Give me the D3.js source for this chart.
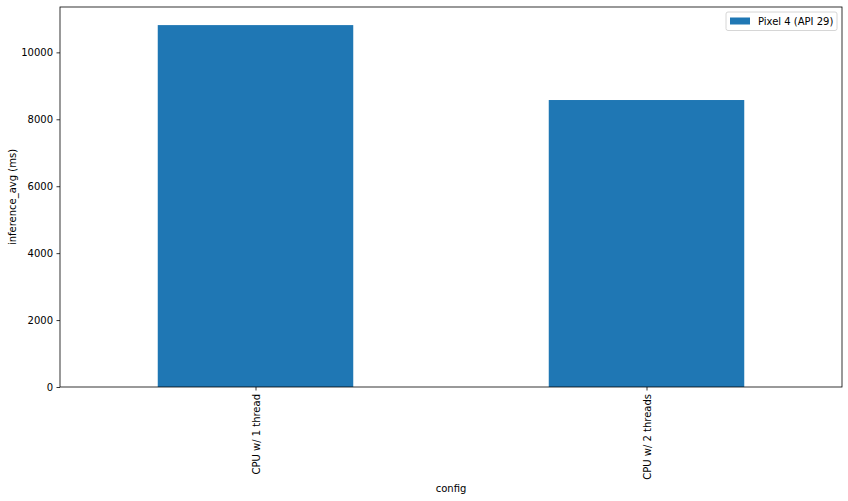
<!DOCTYPE html>
<html>
<head>
<meta charset="utf-8">
<script src="https://cdn.jsdelivr.net/npm/d3@7"></script>
<style>
  body { margin: 0; background: #fff; }
  text { font-family: "DejaVu Sans", sans-serif; fill: #000; }
</style>
</head>
<body>
<div id="chart"></div>
<script>
const configs = ["CPU w/ 1 thread", "CPU w/ 2 threads"];
const seriesName = "Pixel 4 (API 29)";
const inferenceAvg = [10815, 8576];
const yTicks = [0, 2000, 4000, 6000, 8000, 10000];

const width = 848, height = 501;
const margin = { top: 7, right: 6, bottom: 114, left: 60 };
const innerW = width - margin.left - margin.right;
const innerH = height - margin.top - margin.bottom;

const svg = d3.select("#chart")
    .append("svg")
    .attr("width", width)
    .attr("height", height);

const g = svg.append("g")
    .attr("transform", `translate(${margin.left},${margin.top})`);

// categorical x like pandas: positions 0..n-1, limits -0.5..n-0.5, bar width 0.5
const x = d3.scaleLinear()
    .domain([-0.5, configs.length - 0.5])
    .range([0, innerW]);

const y = d3.scaleLinear()
    .domain([0, d3.max(inferenceAvg) * 1.05])
    .range([innerH, 0]);

g.selectAll("rect.bar")
    .data(inferenceAvg)
    .join("rect")
    .attr("class", "bar")
    .attr("x", (d, i) => x(i - 0.25))
    .attr("width", x(0.25) - x(-0.25))
    .attr("y", d => y(d))
    .attr("height", d => y(0) - y(d))
    .attr("fill", "#1f77b4");

// y axis
const yAxis = g.append("g")
    .call(d3.axisLeft(y).tickValues(yTicks).tickSize(3.5).tickPadding(3.5).tickFormat(d3.format("d")));
yAxis.select(".domain").remove();
yAxis.selectAll("line").attr("stroke", "#000").attr("stroke-width", 0.8);
yAxis.selectAll("text").attr("font-size", 10).attr("fill", "#000");

// x axis
const xAxis = g.append("g")
    .attr("transform", `translate(0,${innerH})`)
    .call(d3.axisBottom(x).tickValues(d3.range(configs.length)).tickSize(3.5).tickFormat(i => configs[i]));
xAxis.select(".domain").remove();
xAxis.selectAll("line").attr("stroke", "#000").attr("stroke-width", 0.8);
xAxis.selectAll("text")
    .attr("font-size", 10)
    .attr("fill", "#000")
    .attr("text-anchor", "end")
    .attr("transform", "rotate(-90)")
    .attr("x", -7)
    .attr("y", 0)
    .attr("dy", "0.35em");

// frame
g.append("rect")
    .attr("width", innerW)
    .attr("height", innerH)
    .attr("fill", "none")
    .attr("stroke", "#000")
    .attr("stroke-width", 0.8);

// axis labels
svg.append("text")
    .attr("x", margin.left + innerW / 2)
    .attr("y", 492)
    .attr("text-anchor", "middle")
    .attr("font-size", 10)
    .text("config");

svg.append("text")
    .attr("transform", `translate(16,${margin.top + innerH / 2}) rotate(-90)`)
    .attr("text-anchor", "middle")
    .attr("font-size", 10)
    .text("inference_avg (ms)");

// legend
const legend = svg.append("g")
    .attr("transform", `translate(726,12)`);
legend.append("rect")
    .attr("width", 111)
    .attr("height", 18.5)
    .attr("rx", 2)
    .attr("fill", "#fff")
    .attr("fill-opacity", 0.8)
    .attr("stroke", "#cccccc")
    .attr("stroke-width", 0.8);
legend.append("rect")
    .attr("x", 4)
    .attr("y", 5.5)
    .attr("width", 20)
    .attr("height", 7)
    .attr("fill", "#1f77b4");
legend.append("text")
    .attr("x", 32)
    .attr("y", 9.5)
    .attr("dy", "0.35em")
    .attr("font-size", 10)
    .text(seriesName);
</script>
</body>
</html>
